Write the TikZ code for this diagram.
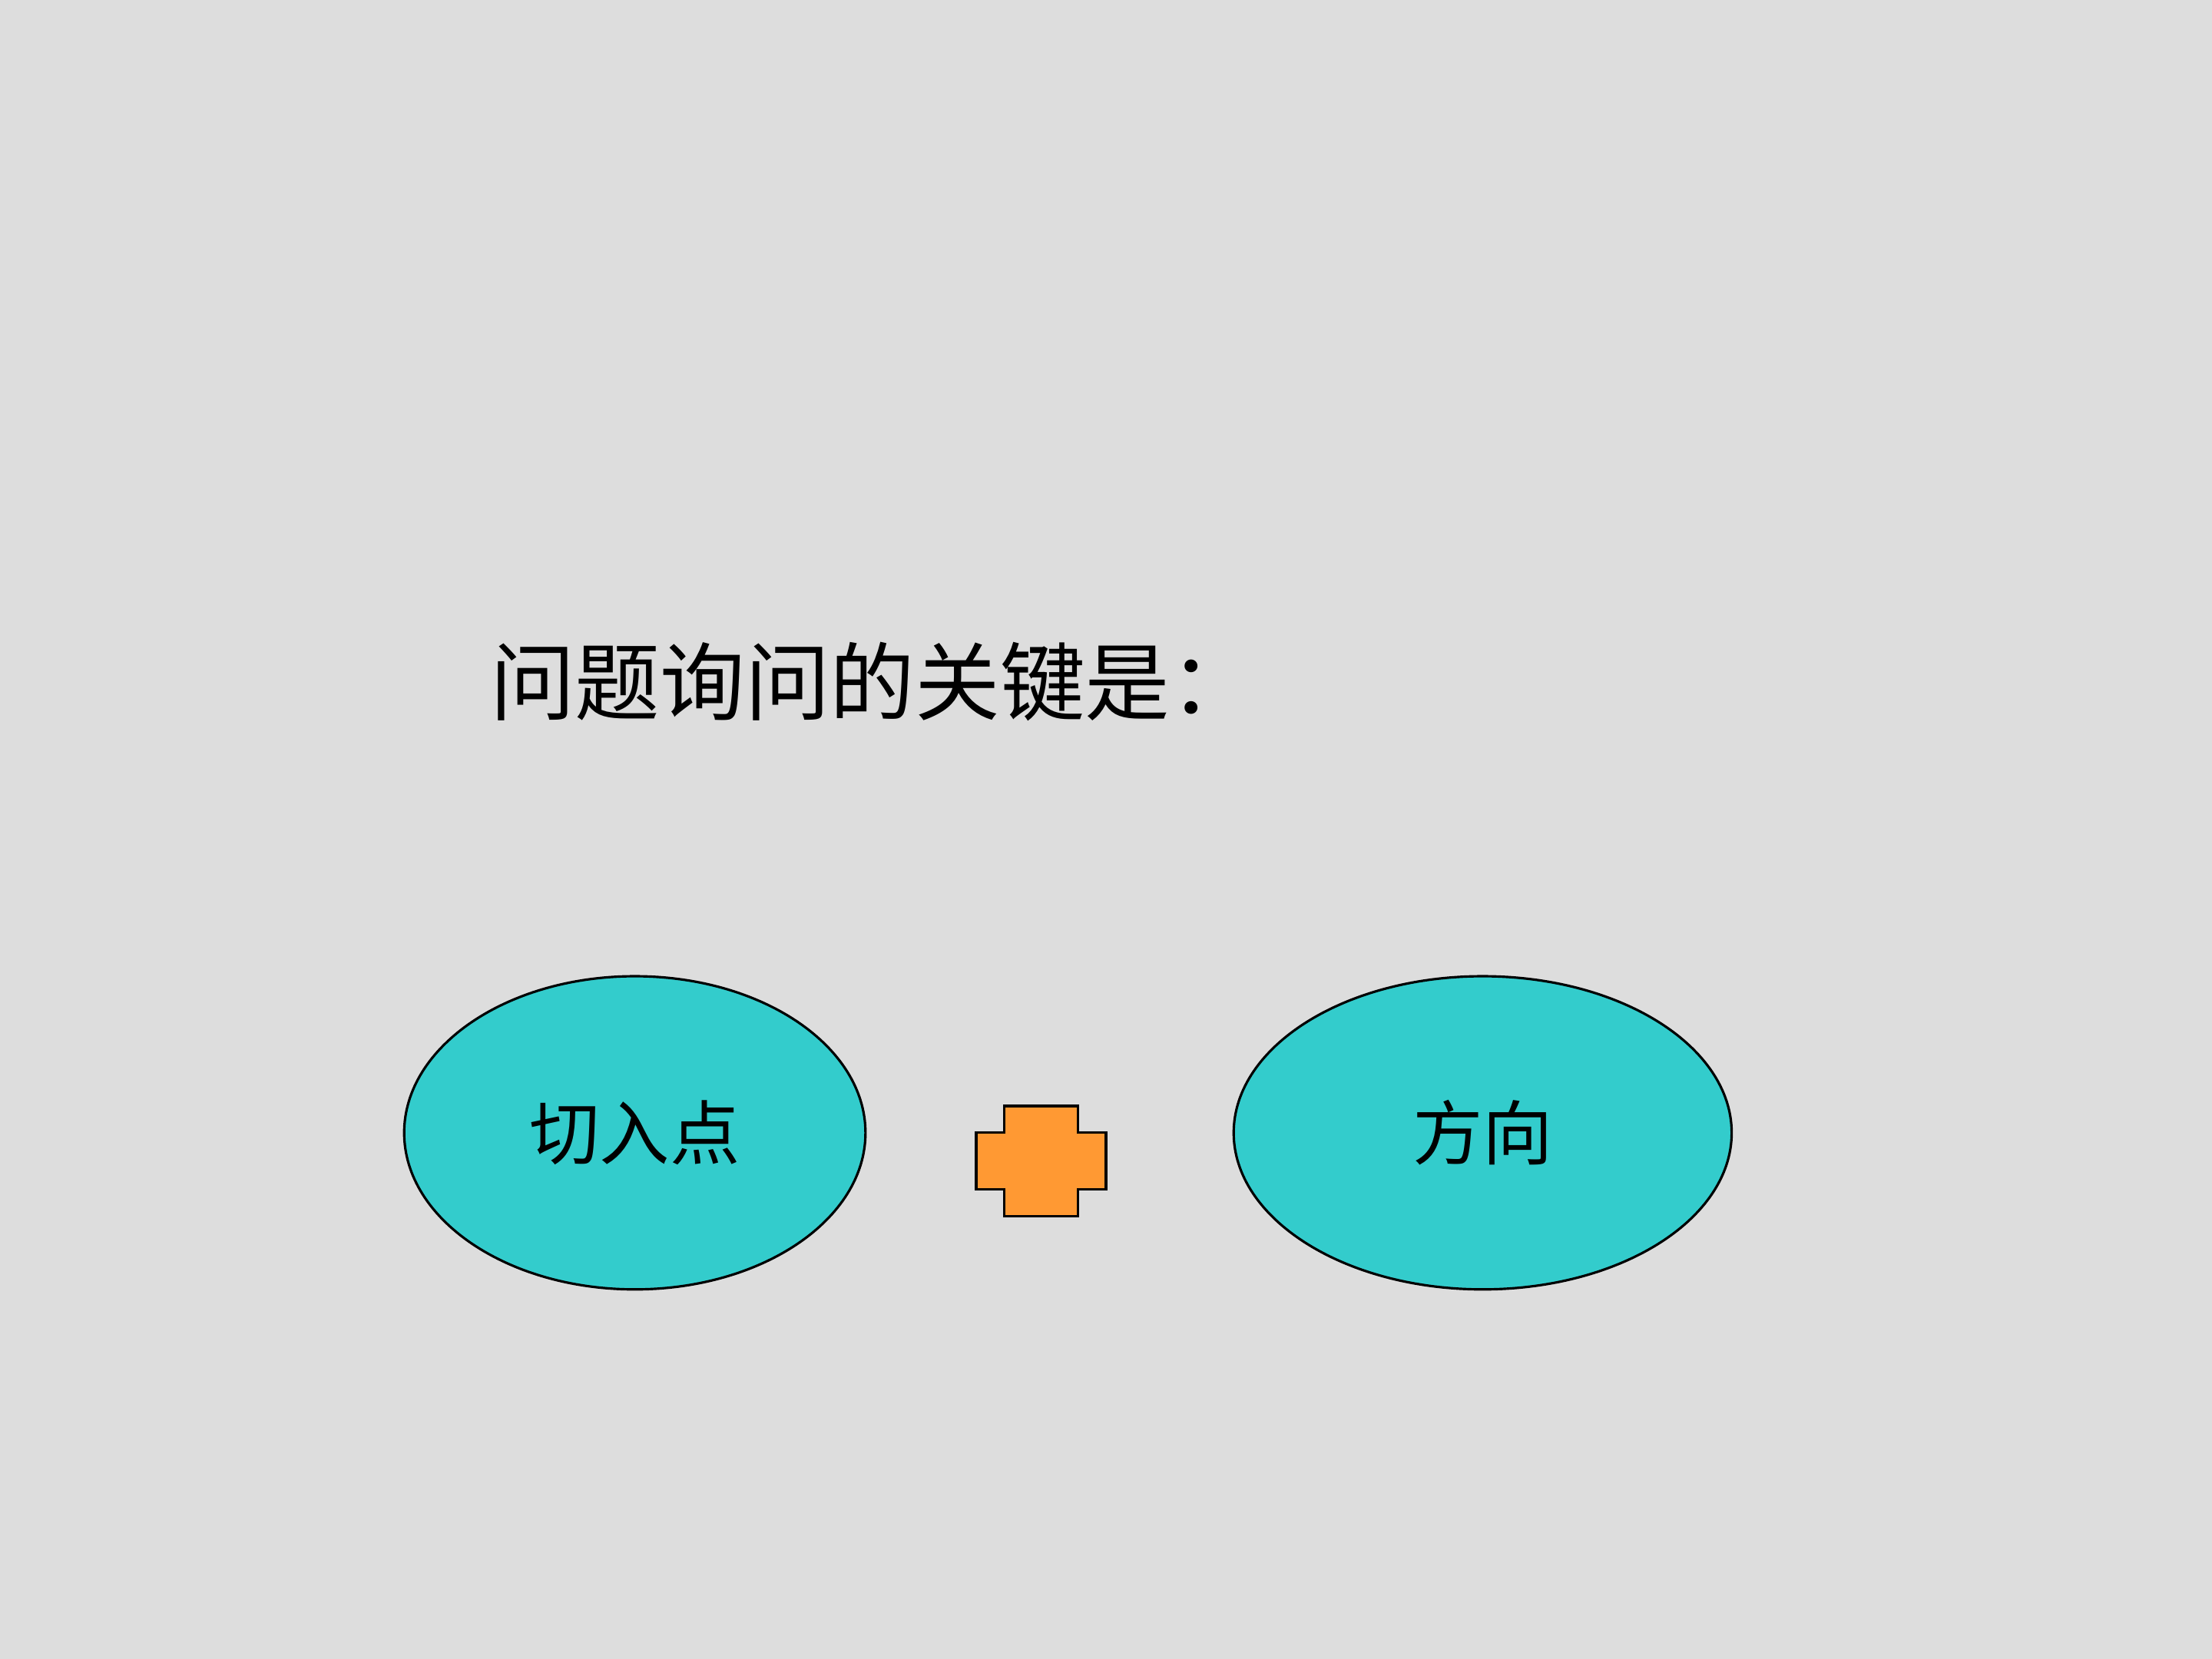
\documentclass[tikz,border=0pt]{standalone}
\usepackage{fontspec}
\usetikzlibrary{shapes.geometric}
\newfontfamily\cjk{Noto Sans CJK SC}
\definecolor{bgc}{HTML}{DDDDDD}
\definecolor{tealc}{HTML}{33CCCC}
\definecolor{orangec}{HTML}{FF9933}
\begin{document}
\begin{tikzpicture}[x=0.018367cm,y=-0.018367cm,
  oval/.style={ellipse,draw=black,line width=0.9pt,fill=tealc,minimum height=222*0.018367cm,inner sep=0pt,font=\cjk\fontsize{26}{30}\selectfont},
  title/.style={anchor=west,inner sep=0pt,font=\cjk\fontsize{31.5}{36}\selectfont}]
\fill[bgc] (0,0) rectangle (1568,1176);
\useasboundingbox (0,0) rectangle (1568,1176);
\node[title] (t) at (347,483) {问题询问的关键是：};
\node[oval,minimum width=327*0.018367cm] (a) at (450,803) {切入点};
\node[oval,minimum width=353*0.018367cm] (b) at (1051,803) {方向};
\draw[fill=orangec,line width=0.9pt] (712,784) -- (764,784) -- (764,803) -- (784,803) -- (784,843) -- (764,843) -- (764,862) -- (712,862) -- (712,843) -- (692,843) -- (692,803) -- (712,803) -- cycle;
\end{tikzpicture}
\end{document}
